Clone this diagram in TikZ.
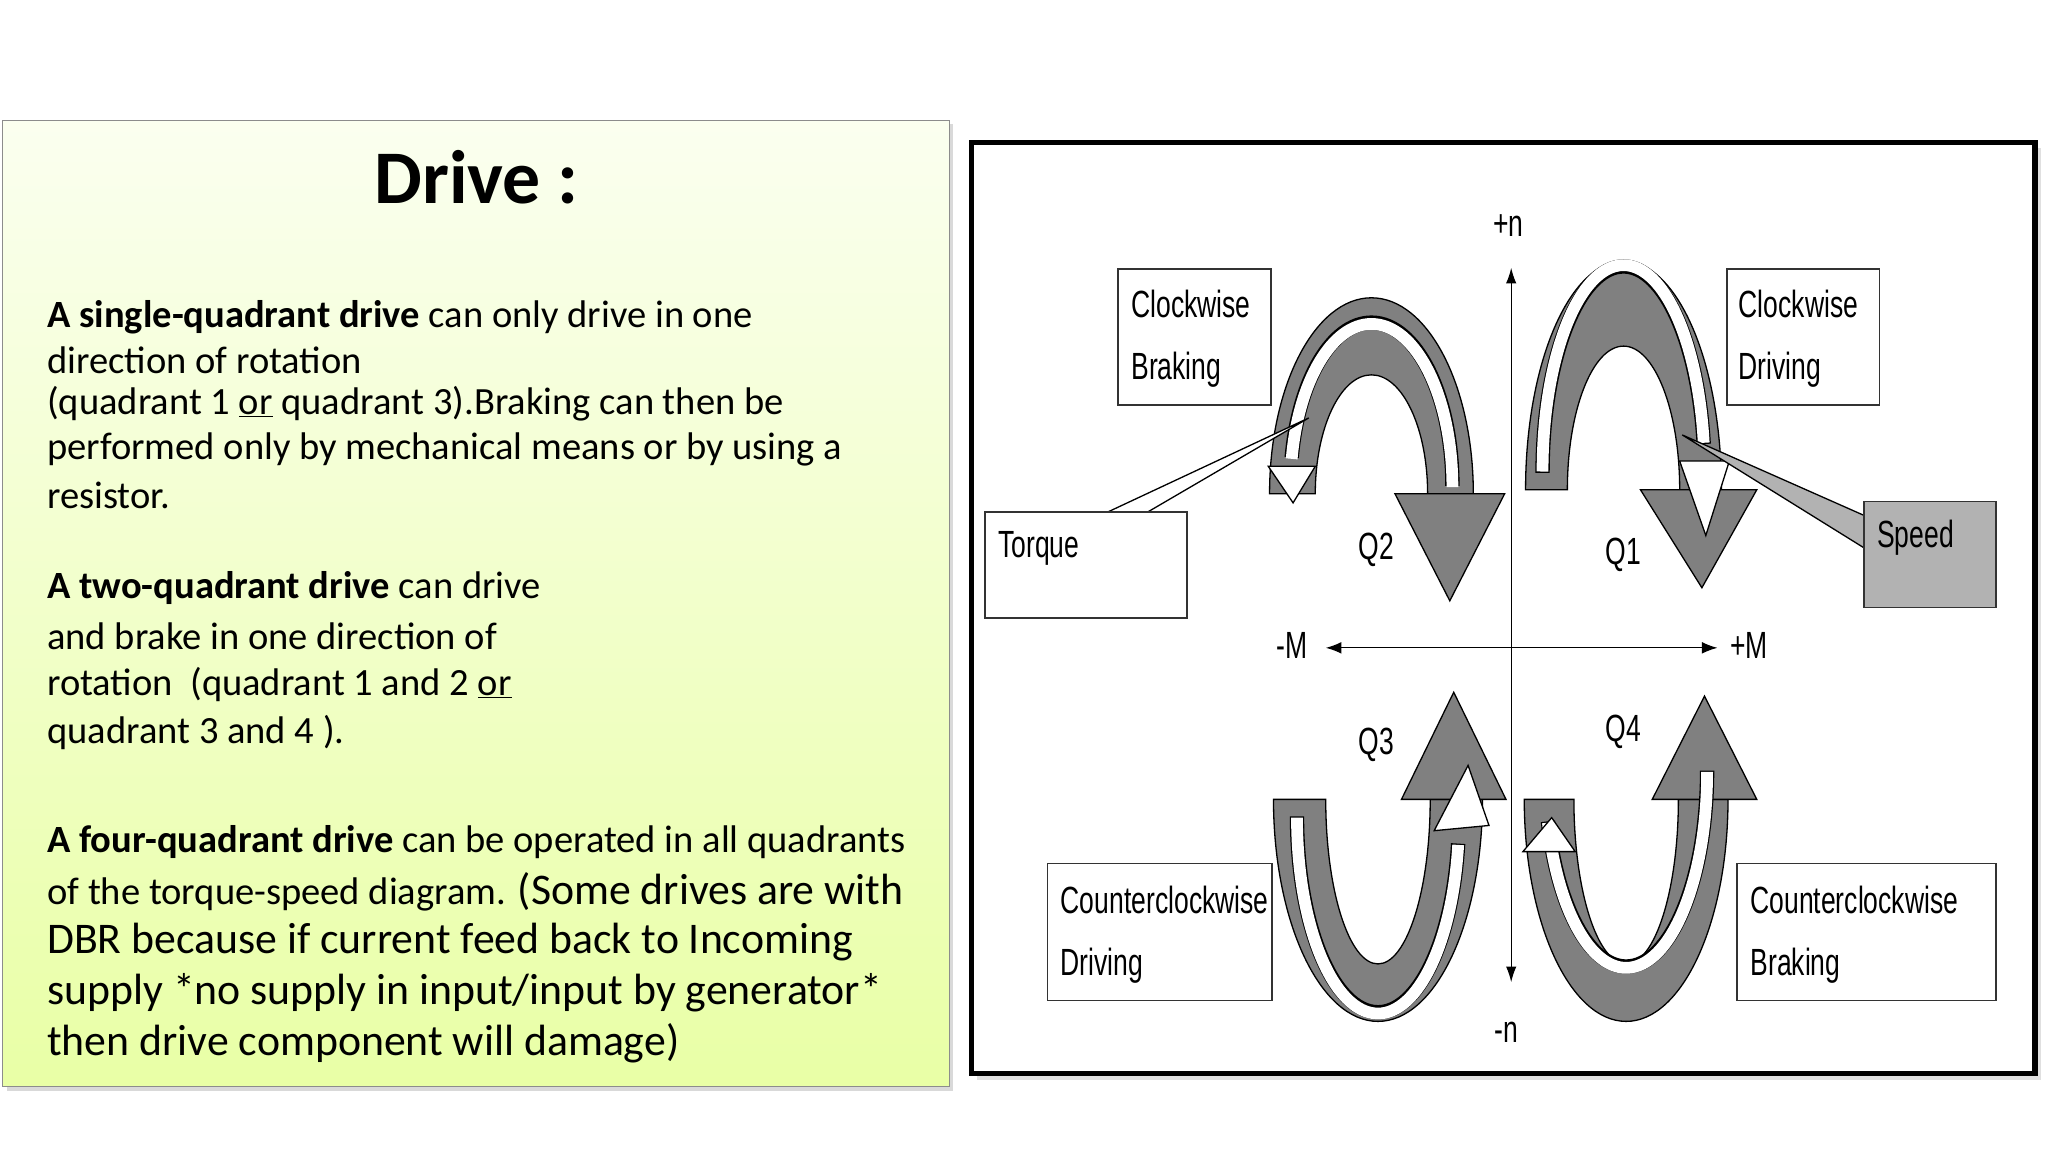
\documentclass[tikz,border=0pt]{standalone}
\usepackage{fontspec}
\usetikzlibrary{arrows.meta}
\setmainfont{Carlito}
\newfontfamily\nar[FakeStretch=0.7]{Liberation Sans}
\begin{document}
\begin{tikzpicture}[x=1pt,y=-1pt,
  txt/.style={anchor=west,inner sep=0pt,font=\fontsize{29.5}{34}\selectfont},
  big/.style={anchor=west,inner sep=0pt,font=\fontsize{33.5}{38}\selectfont},
  lbl/.style={inner sep=0pt,font=\nar\fontsize{29}{34}\selectfont},
  bx/.style={draw=black!80,line width=1.2pt,fill=white},
  greg/.style={fill=gry,draw=black,line width=1pt},
  wband/.style={line width=11pt,draw=black},
  wfill/.style={line width=9pt,draw=white},
  ghead/.style={fill=gry,draw=black,line width=1pt},
  whead/.style={fill=white,draw=black,line width=1pt}]
\definecolor{gry}{HTML}{808080}
\useasboundingbox (0,0) rectangle (1568,882);
\fill[white] (0,0) rectangle (1568,882);
% left panel
\fill[black!15] (5,95) rectangle (730,835);
\shade[top color=green!4!lime!6!white,bottom color=lime!35!white,draw=black!45] (2,92) rectangle (727,832);
\node[inner sep=0pt,font=\bfseries\fontsize{58}{64}\selectfont] (title) at (365,136) {Drive :};
\node[txt] (l1) at (36,243) {\textbf{A single-quadrant drive} can only drive in one};
\node[txt] (l2) at (36,276) {direction of rotation};
\node[txt] (l3) at (36,309) {(quadrant 1 \underline{or} quadrant 3).Braking can then be};
\node[txt] (l4) at (36,344) {performed only by mechanical means or by using a};
\node[txt] (l5) at (36,379) {resistor.};
\node[txt] (m1) at (36,450) {\textbf{A two-quadrant drive} can drive};
\node[txt] (m2) at (36,487) {and brake in one direction of};
\node[txt] (m3) at (36,524) {rotation\ \ (quadrant 1 and 2 \underline{or}};
\node[txt] (m4) at (36,561) {quadrant 3 and 4 ).};
\node[txt] (n1) at (36,645) {\textbf{A four-quadrant drive} can be operated in all quadrants};
\node[txt] (n2) at (36,683) {of the torque-speed diagram. {\fontsize{33.5}{38}\selectfont(Some drives are with}};
\node[big] (n3) at (36,721) {DBR because if current feed back to Incoming};
\node[big] (n4) at (36,760) {supply *no supply in input/input by generator*};
\node[big] (n5) at (36,799) {then drive component will damage)};
% right panel
\fill[black!12] (748,113) rectangle (1563,827);
\draw[line width=4pt,fill=white] (744,109) rectangle (1558,822);
% axes
\coordinate (nt) at (1157,205); \coordinate (nb) at (1157,752);
\coordinate (ml) at (1015,496); \coordinate (mr) at (1315,496);
\coordinate (o) at (1157,496);
\draw[line width=1pt,-{Latex[length=12pt,width=8pt]}] (o) -- (nt);
\draw[line width=1pt,-{Latex[length=12pt,width=8pt]}] (o) -- (nb);
\draw[line width=1pt,{Latex[length=12pt,width=9pt]}-{Latex[length=12pt,width=9pt]}] (ml) -- (mr);
\node[lbl] (pn) at (1155,173) {+n};
\node[lbl] (mn) at (1153,790) {-n};
\node[lbl] (mM) at (989,494) {-M};
\node[lbl] (pM) at (1339,494) {+M};
\node[lbl] (q2) at (1054,421) {Q2};
\node[lbl] (q1) at (1243,425) {Q1};
\node[lbl] (q3) at (1054,570) {Q3};
\node[lbl] (q4) at (1243,560) {Q4};
% Q1
\draw[greg] (1168,375) arc[start angle=180,end angle=360,x radius=75,y radius=175]
  -- (1286,375) arc[start angle=360,end angle=180,x radius=43,y radius=110] -- cycle;
\draw[ghead] (1256,375)--(1345,375)--(1303,450)--cycle;
\draw[wband] (1181,362) arc[start angle=180,end angle=352,x radius=62,y radius=158];
\draw[wfill] (1181,361) arc[start angle=180,end angle=352,x radius=62,y radius=158];
\draw[whead] (1286,353)--(1324,353)--(1306,410)--cycle;
% Q2
\draw[greg] (972,378) arc[start angle=180,end angle=360,x radius=78,y radius=150]
  -- (1093,378) arc[start angle=360,end angle=180,x radius=43,y radius=91] -- cycle;
\draw[ghead] (1068,378)--(1152,378)--(1110,460)--cycle;
\draw[wband] (1112,372) arc[start angle=360,end angle=190,x radius=62,y radius=125];
\draw[wfill] (1112,373) arc[start angle=360,end angle=190,x radius=62,y radius=125];
\draw[whead] (971,357)--(1007,357)--(990,385)--cycle;
% Q3
\draw[greg] (975,612) arc[start angle=180,end angle=0,x radius=80,y radius=170]
  -- (1095,612) arc[start angle=0,end angle=180,x radius=40,y radius=126] -- cycle;
\draw[ghead] (1073,612)--(1153,612)--(1113,530)--cycle;
\draw[wband] (993,625) arc[start angle=180,end angle=8,x radius=62,y radius=150];
\draw[wfill] (993,626) arc[start angle=180,end angle=8,x radius=62,y radius=150];
\draw[whead] (1098,636)--(1140,632)--(1124,586)--cycle;
% Q4
\draw[greg] (1167,612) arc[start angle=180,end angle=0,x radius=78,y radius=170]
  -- (1285,612) arc[start angle=0,end angle=180,x radius=40,y radius=126] -- cycle;
\draw[ghead] (1265,612)--(1345,612)--(1305,533)--cycle;
\draw[wband] (1307,590) arc[start angle=0,end angle=165,x radius=62,y radius=150];
\draw[wfill] (1307,591) arc[start angle=0,end angle=165,x radius=62,y radius=150];
\draw[whead] (1166,652)--(1206,652)--(1188,626)--cycle;
% boxes
\draw[bx] (856,206) rectangle (973,310);
\node[lbl,anchor=west] (cb1) at (866,233) {Clockwise};
\node[lbl,anchor=west] (cb2) at (866,283) {Braking};
\draw[bx] (1322,206) rectangle (1439,310);
\node[lbl,anchor=west] (cd1) at (1331,233) {Clockwise};
\node[lbl,anchor=west] (cd2) at (1331,283) {Driving};
\draw[bx] (802,661) rectangle (974,766);
\node[lbl,anchor=west] (ccd1) at (812,689) {Counterclockwise};
\node[lbl,anchor=west] (ccd2) at (812,739) {Driving};
\draw[bx] (1330,661) rectangle (1528,766);
\node[lbl,anchor=west] (ccb1) at (1340,689) {Counterclockwise};
\node[lbl,anchor=west] (ccb2) at (1340,739) {Braking};
% callouts
\coordinate (tp) at (1002,320);
\draw[line width=1pt,fill=white] (846,393)--(tp)--(877,393);
\draw[bx] (754,392) rectangle (909,473);
\node[lbl,anchor=west] (tq) at (764,420) {Torque};
\coordinate (sp) at (1288,333);
\draw[line width=1pt,fill=black!30] (1428,395)--(sp)--(1428,420);
\draw[bx,fill=black!30] (1427,384) rectangle (1528,465);
\node[lbl,anchor=west] (spd) at (1437,412) {Speed};
\end{tikzpicture}
\end{document}
